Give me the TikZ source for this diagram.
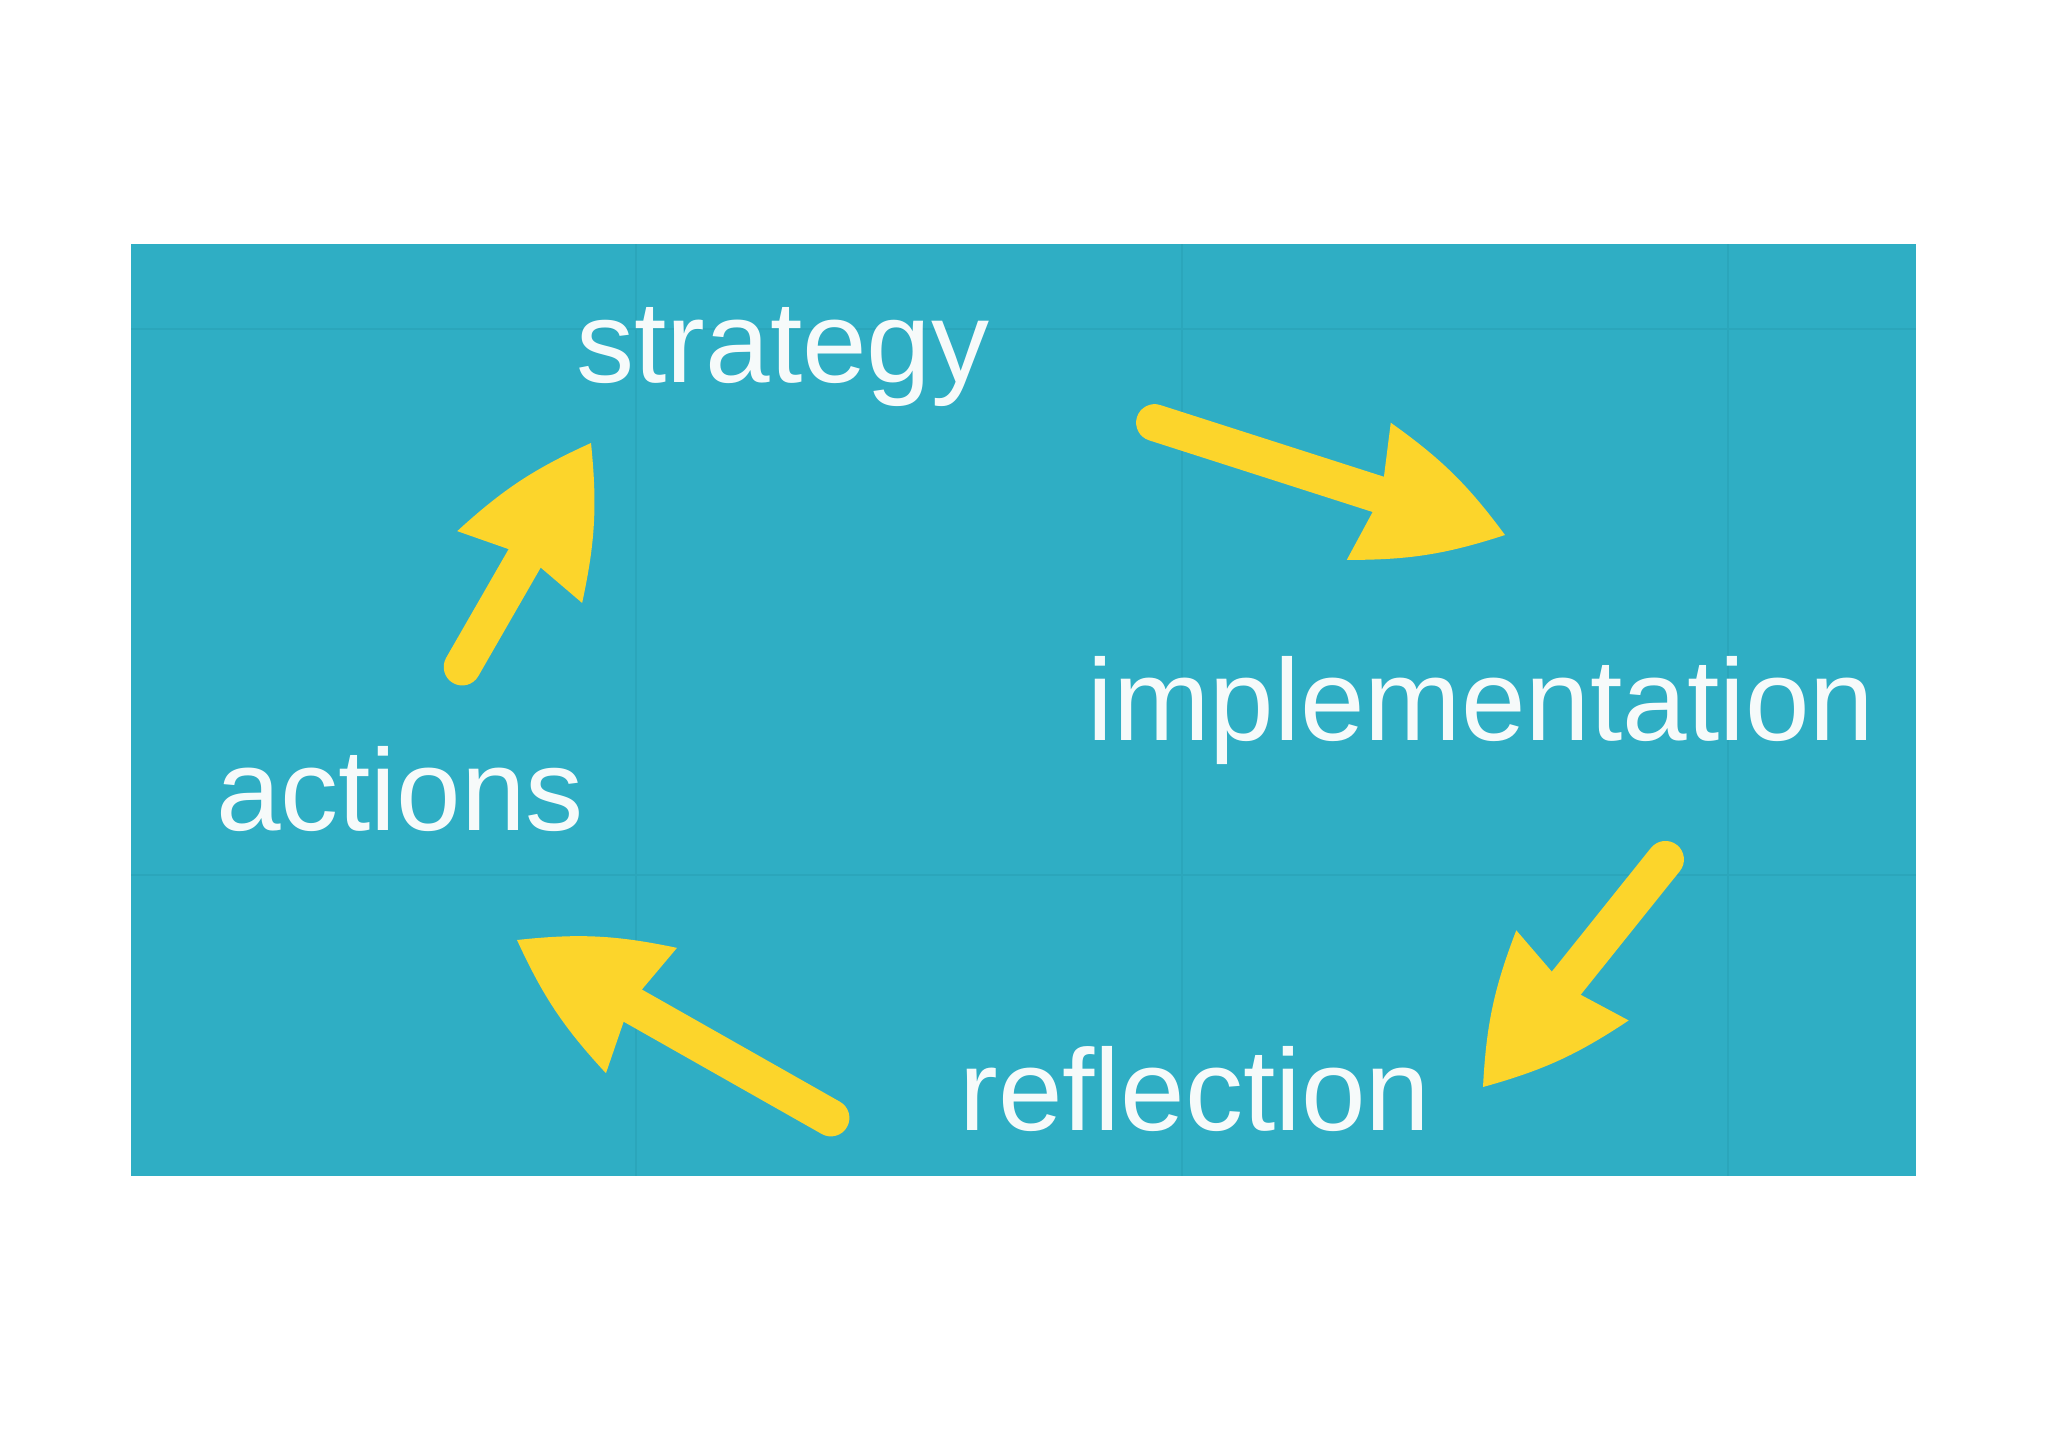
\documentclass[tikz,border=0pt]{standalone}
\usepackage{xcolor}
\usepackage{fontspec}
\setmainfont{Liberation Sans}
\usepackage{tikz}
\usetikzlibrary{calc}

\definecolor{slideteal}{HTML}{2FAEC4}
\definecolor{gridteal}{HTML}{2BA6BB}
\definecolor{arrowyellow}{HTML}{FCD52B}
\definecolor{labelwhite}{HTML}{F6FAFA}

% one yellow arrow of the cycle, from (#1tail) to (#1tip)
\newcommand{\cyclearrow}[1]{%
    \coordinate (#1back) at ($(#1tip)!1.43cm!(#1tail)$);
    \coordinate (#1notch) at ($(#1tip)!1.33cm!(#1tail)$);
    \coordinate (#1neck) at ($(#1tip)!1.2cm!(#1tail)$);
    \draw[shaft] (#1tail) -- (#1neck);
    \fill[head] (#1tip) to[bend right=9] ($(#1back)!0.72cm!90:(#1tip)$)
        -- ($(#1notch)!0.185cm!90:(#1tip)$) -- ($(#1notch)!0.185cm!-90:(#1tip)$)
        -- ($(#1back)!0.72cm!-90:(#1tip)$) to[bend right=9] (#1tip) -- cycle;
}

\begin{document}
\begin{tikzpicture}[x=0.01cm, y=-0.01cm,
    word/.style={text=labelwhite, inner sep=0pt, anchor=base, font=\fontsize{33}{40}\selectfont},
    shaft/.style={draw=arrowyellow, line width=0.37cm, line cap=round, shorten <=0.185cm},
    head/.style={fill=arrowyellow},
    gridline/.style={draw=gridteal, line width=0.5pt}]

    \useasboundingbox (0,0) rectangle (2048,1448);
    \fill[white] (0,0) rectangle (2048,1448);

    % Slide background
    \fill[slideteal] (131,244) rectangle (1916,1176);
    \foreach \gx in {636,1182,1728}
        \draw[gridline] (\gx,244) -- (\gx,1176);
    \foreach \gy in {329,875}
        \draw[gridline] (131,\gy) -- (1916,\gy);

    % Stages
    \node[word] (strategy) at (783,382) {strategy};
    \node[word] (implementation) at (1481,740) {implementation};
    \node[word] (reflection) at (1195,1130) {reflection};
    \node[word] (actions) at (400,830) {actions};

    % Arrow ends
    \coordinate (a1tail) at (453,683);
    \coordinate (a1tip) at (591,443);
    \coordinate (a2tail) at (1137,417);
    \coordinate (a2tip) at (1505,535);
    \coordinate (a3tail) at (1677,845);
    \coordinate (a3tip) at (1483,1087);
    \coordinate (a4tail) at (847,1127);
    \coordinate (a4tip) at (517,940);

    % Arrows
    \cyclearrow{a1}
    \cyclearrow{a2}
    \cyclearrow{a3}
    \cyclearrow{a4}

\end{tikzpicture}
\end{document}
